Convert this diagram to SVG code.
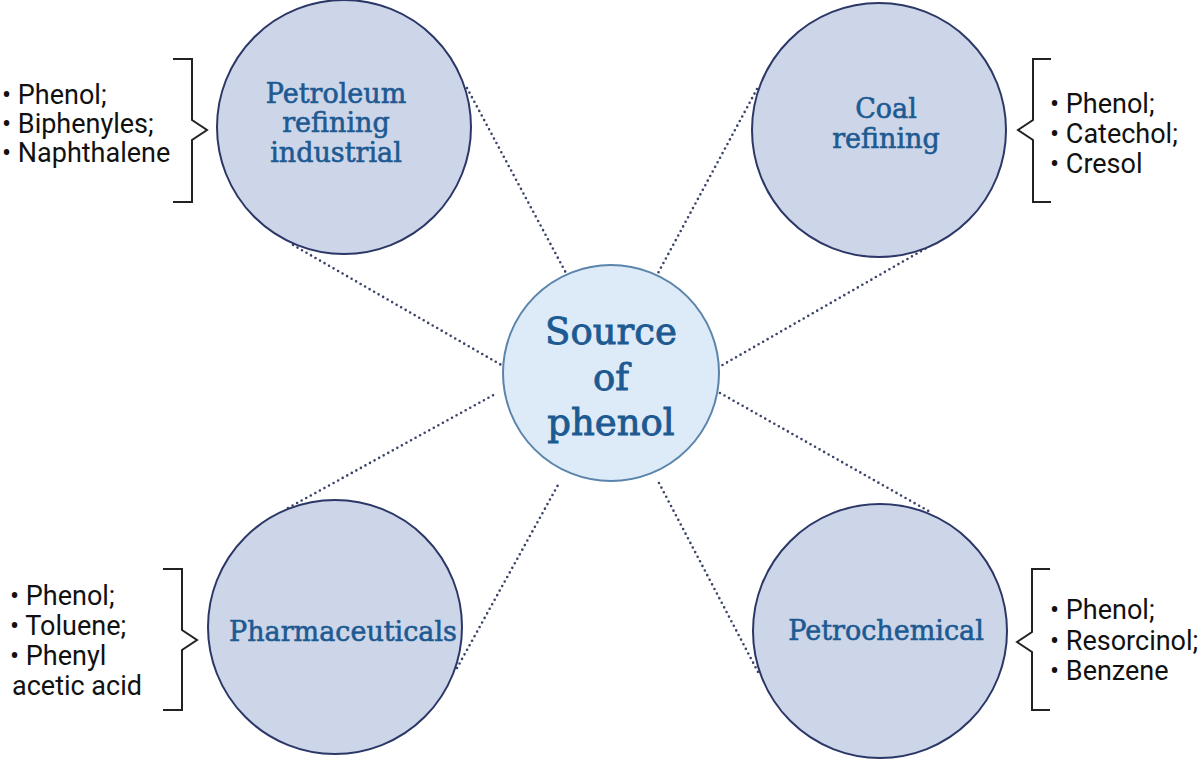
<svg xmlns="http://www.w3.org/2000/svg" width="1200" height="762" viewBox="0 0 1200 762">
<style>
.outer{fill:#cdd5e8;stroke:#2b3766;stroke-width:2}
.center{fill:#ddeaf8;stroke:#5a84aa;stroke-width:2}
.lbl{font-family:"DejaVu Serif","Liberation Serif",serif;fill:#1d5a92;stroke:#1d5a92;text-anchor:middle}
.big{font-size:37px;stroke-width:0.9}
.mid{font-size:27px;stroke-width:0.6}
.list{font-family:Roboto,"Liberation Sans",sans-serif;font-size:27px;fill:#111}
.dot{stroke:#3a4468;stroke-width:2.6;stroke-linecap:round;stroke-dasharray:0 5.2;fill:none}
.br{stroke:#222;stroke-width:2;fill:none}
</style>
<rect width="1200" height="762" fill="#fff"/>
<g id="connectors">
<line class="dot" x1="467" y1="88" x2="566" y2="273"/>
<line class="dot" x1="293" y1="245" x2="503" y2="366"/>
<line class="dot" x1="757" y1="89" x2="657" y2="275"/>
<line class="dot" x1="930" y1="246" x2="719" y2="367"/>
<line class="dot" x1="288" y1="508" x2="497" y2="393"/>
<line class="dot" x1="457" y1="668" x2="558" y2="485"/>
<line class="dot" x1="720" y1="393" x2="932" y2="513"/>
<line class="dot" x1="659" y1="483" x2="758" y2="672"/>
</g>
<g id="center-node">
<circle class="center" cx="611" cy="373" r="108"/>
<text class="lbl big" x="611" y="344">Source</text>
<text class="lbl big" x="611" y="390">of</text>
<text class="lbl big" x="611" y="435">phenol</text>
</g>
<g id="petroleum">
<circle class="outer" cx="344" cy="127" r="127"/>
<text class="lbl mid" x="336" y="103">Petroleum</text>
<text class="lbl mid" x="336" y="132">refining</text>
<text class="lbl mid" x="336" y="162">industrial</text>
<path class="br" d="M173,59 H192 V120 L207,130 L192,140 V202 H173"/>
<text class="list" x="2" y="104">• Phenol;</text>
<text class="list" x="2" y="133">• Biphenyles;</text>
<text class="list" x="2" y="162">• Naphthalene</text>
</g>
<g id="coal">
<circle class="outer" cx="879" cy="130" r="127"/>
<text class="lbl mid" x="886" y="118">Coal</text>
<text class="lbl mid" x="886" y="148">refining</text>
<path class="br" d="M1051,59 H1033 V120 L1018,130 L1033,140 V202 H1051"/>
<text class="list" x="1050" y="113">• Phenol;</text>
<text class="list" x="1050" y="143">• Catechol;</text>
<text class="list" x="1050" y="173">• Cresol</text>
</g>
<g id="pharmaceuticals">
<circle class="outer" cx="335" cy="627" r="127"/>
<text class="lbl mid" x="343" y="641">Pharmaceuticals</text>
<path class="br" d="M163,569 H182 V630 L197,640 L182,650 V710 H163"/>
<text class="list" x="10" y="605">• Phenol;</text>
<text class="list" x="10" y="635">• Toluene;</text>
<text class="list" x="10" y="665">• Phenyl</text>
<text class="list" x="12" y="695">acetic acid</text>
</g>
<g id="petrochemical">
<circle class="outer" cx="880" cy="631" r="127"/>
<text class="lbl mid" x="886" y="640">Petrochemical</text>
<path class="br" d="M1050,569 H1032 V632 L1017,642 L1032,652 V710 H1050"/>
<text class="list" x="1050" y="619">• Phenol;</text>
<text class="list" x="1050" y="650">• Resorcinol;</text>
<text class="list" x="1050" y="680">• Benzene</text>
</g>
</svg>
